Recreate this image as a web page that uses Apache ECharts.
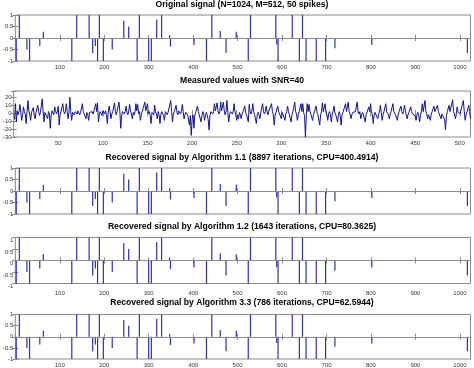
<!DOCTYPE html>
<html>
<head>
<meta charset="utf-8">
<script src="https://cdn.jsdelivr.net/npm/echarts@6/dist/echarts.min.js"></script>
<style>
  html, body { margin: 0; padding: 0; background: #fff; }
  #chart { width: 474px; height: 368px; }
</style>
</head>
<body>
<div id="chart"></div>
<script>
  // spike positions (1..1024) and amplitudes
  const spikePos = [2, 9, 26, 32, 55, 63, 127, 138, 166, 174, 180, 185, 189, 198, 218, 244, 255, 274, 279, 300,
    306, 318, 329, 347, 349, 402, 430, 442, 461, 474, 497, 524, 529, 586, 588, 591, 623, 639, 646, 654,
    677, 698, 719, 802, 1017];
  const spikeVal = [-1, 1, -0.5, -1, -0.35, 0.27, -1, 1, 1, -0.65, -0.35, -1, 1, -1, -0.5, 0.75, 0.5, -1, 1, -1,
    -1, 0.8, 1, 0.12, -0.37, -0.3, -1, 1, 0.3, -0.65, 0.27, -1, 1, 1, -0.28, -1, 1, -1, 1, -1,
    -1, -1, -0.45, -0.3, -0.65];

  // recovered signals look identical to the original at this resolution
  const rec11Val = spikeVal.slice();
  const rec12Val = spikeVal.slice();
  const rec33Val = spikeVal.slice();

  const measured = [
    -8, 12, -11, 3, -2, 2, 11, 1, -9, -2, 8, 2, -1, -13, 2, 16,
    3, -1, -9, 1, 2, 7, -2, -7, 1, 3, 10, 2, -3, 1, 3, 18,
    2, -11, 1, 3, 1, -7, 2, -1, -19, -2, 3, 1, -2, 8, 3, -1,
    2, 9, -15, -2, 2, 1, 12, 3, -1, 2, 12, 2, -7, 1, 20, 2,
    -9, 1, 3, -2, 2, 1, -1, 3, 2, -2, 1, 3, 12, 2, -1, 1,
    -7, 1, -2, -9, 1, 2, -1, 2, -1, 3, 1, 12, 2, 13, -11, -2,
    2, 1, -3, 3, 2, -1, 3, -2, -13, 1, 9, 2, -7, -1, 2, 3,
    13, 2, -2, 3, 1, 14, 2, -19, -3, 2, 3, -1, 2, 9, 1, -2,
    3, 11, 2, -1, -7, 1, -2, 2, 12, 3, 11, -1, 2, -9, -2, 2,
    1, 3, 14, 3, 2, 12, -1, 2, -3, -13, 1, 3, -2, 10, 2, -1,
    -7, 2, -2, -13, -1, 2, 1, -3, -9, 2, 3, -2, 1, 3, 2, 16,
    2, -11, -1, 2, 3, 10, 1, -2, 3, 2, -1, 2, 11, 2, -7, -2,
    1, 3, -2, -3, -15, -3, -28, -8, -2, -19, -3, 1, 2, 9, 2, -2,
    -1, -11, -3, 2, -2, -9, -2, 1, -3, -8, -21, -3, 2, 3, -1, 2,
    12, 3, 2, 13, 3, -1, 2, 14, 3, 2, 14, 3, -2, 2, 16, 1,
    -11, -2, 2, 3, -1, 2, 12, 2, -2, -9, -2, -7, 1, -2, -7, -1,
    2, 3, 9, 1, -2, -3, -11, 11, 2, -1, 3, 12, 2, -2, -3, -13,
    -2, 1, -2, -7, 1, 3, 12, 2, -1, 2, 9, 2, -2, 3, 1, 3,
    12, 2, -2, -15, -2, 1, 3, 9, 2, -1, -2, -7, 1, -2, -3, -9,
    -1, 2, 9, 2, -2, -3, -11, -1, 2, 3, 14, 2, -1, -9, -2, 2,
    3, 12, 2, 12, 1, -3, -30, -2, 12, 2, 11, 2, -1, -2, -9, -2,
    2, 3, 9, 1, -2, -3, -15, -2, 2, 13, 2, 3, 12, 1, -2, -9,
    -1, 2, -2, -11, -2, 2, 9, 1, -2, -3, -11, -1, 2, -3, -15, -2,
    1, 3, 2, 12, 2, 3, 14, 2, -1, -7, -2, 1, 2, -1, 2, 3,
    14, 2, -1, 2, -7, -2, 1, -2, -3, -11, -2, 1, 2, 8, 2, 12,
    2, -2, -13, -2, 1, 2, -1, -7, -2, 2, 10, 1, -9, -2, 2, 3,
    12, 2, 1, -2, -7, -1, 2, 3, 12, 2, 1, -2, -3, -9, -2, 2,
    3, 9, 2, -1, 2, 10, 3, 1, -7, -2, 1, 2, 8, 2, -1, -2,
    -2, -3, -9, -2, 1, -3, -11, -2, 3, 12, 2, 3, 16, 2, -1, -7,
    -2, -3, -9, -1, 2, 3, 9, 2, 3, 1, 10, 2, -1, -2, -7, -1,
    1, -2, -8, -21, -3, 2, 3, 10, 2, 3, 2, 17, 2, -1, -7, -2,
    8, 2, 3, -1, 2, 3, 2, 16, 2, -9, -2, 1, 3, 10, 2, -7
  ];

  const titles = [
    "Original signal (N=1024, M=512, 50 spikes)",
    "Measured values with SNR=40",
    "Recovered signal by Algorithm 1.1 (8897 iterations, CPU=400.4914)",
    "Recovered signal by Algorithm 1.2 (1643 iterations, CPU=80.3625)",
    "Recovered signal by Algorithm 3.3 (786 iterations, CPU=62.5944)"
  ];

  const chart = echarts.init(document.getElementById("chart"), null, { renderer: "canvas" });

  const gridTops = [15, 91, 168, 237.5, 314.5];
  const titleCenters = [4.7, 81, 158, 226.7, 303.5];
  const boxColor = "#8a8a8a";
  const labelFont = { fontFamily: "Liberation Sans", fontSize: 6, color: "#3a3a3a" };

  const grids = [];
  const xAxes = [];
  const yAxes = [];
  const series = [];
  const titleList = [];

  function addPanel(k, opts) {
    grids.push({ left: 12, right: 3.5, top: gridTops[k], height: 46, show: true, borderColor: boxColor, borderWidth: 1 });
    titleList.push({
      text: titles[k], left: 242, top: titleCenters[k] - 5, textAlign: "center", padding: 0,
      textStyle: { fontFamily: "Liberation Sans", fontSize: 8.6, fontWeight: "bold", color: "#000" }
    });
    const xBase = {
      type: "value", gridIndex: k, min: 0, max: opts.xMax, interval: opts.xStep,
      axisLine: { show: false }, splitLine: { show: false },
      axisTick: { inside: true, length: 3, lineStyle: { color: boxColor } }
    };
    xAxes.push(Object.assign({}, xBase, {
      position: "bottom",
      axisLabel: Object.assign({
        show: opts.xLabels, margin: opts.xMargin || 3,
        formatter: v => (v > 0 && v % opts.xStep === 0 ? v : "")
      }, labelFont)
    }));
    xAxes.push(Object.assign({}, xBase, { position: "top", axisLabel: { show: false } }));
    const yBase = {
      type: "value", gridIndex: k, min: opts.yMin, max: opts.yMax, interval: opts.yStep,
      axisLine: { show: false }, splitLine: { show: false },
      axisTick: { inside: true, length: 3, lineStyle: { color: boxColor } }
    };
    yAxes.push(Object.assign({}, yBase, {
      position: "left",
      axisLabel: Object.assign({
        margin: 2, verticalAlign: opts.yAlign || "middle",
        formatter: v => (Math.abs(v / opts.yStep - Math.round(v / opts.yStep)) < 1e-6 ? String(v) : "")
      }, labelFont)
    }));
    yAxes.push(Object.assign({}, yBase, { position: "right", axisLabel: { show: false } }));
  }

  function spikeSeries(k, vals) {
    series.push({
      type: "bar", xAxisIndex: 2 * k, yAxisIndex: 2 * k, barWidth: 1.2,
      itemStyle: { color: "#3030b0" },
      data: spikePos.map((p, i) => [p, vals[i]]),
      markLine: {
        silent: true, symbol: "none", animation: false,
        label: { show: false },
        lineStyle: { color: "#8c8c8c", width: 1, type: "solid" },
        data: [{ yAxis: 0 }]
      },
      animation: false
    });
  }

  const spikeAxes = { xMax: 1024, xStep: 100, yMin: -1, yMax: 1, yStep: 0.5 };

  addPanel(0, Object.assign({ xLabels: true }, spikeAxes));
  spikeSeries(0, spikeVal);

  addPanel(1, { xMax: 512, xStep: 50, yMin: -30, yMax: 28, yStep: 10, xLabels: true });
  series.push({
    type: "line", xAxisIndex: 2, yAxisIndex: 2, showSymbol: false, animation: false,
    lineStyle: { color: "#14148a", width: 1 },
    data: measured.map((v, i) => [i + 1, v])
  });

  addPanel(2, Object.assign({ xLabels: false }, spikeAxes));
  spikeSeries(2, rec11Val);

  addPanel(3, Object.assign({ xLabels: true, xMargin: 7, yAlign: "top" }, spikeAxes));
  spikeSeries(3, rec12Val);

  addPanel(4, Object.assign({ xLabels: true }, spikeAxes));
  spikeSeries(4, rec33Val);

  chart.setOption({
    animation: false,
    title: titleList,
    grid: grids,
    xAxis: xAxes,
    yAxis: yAxes,
    series: series
  });
</script>
</body>
</html>
